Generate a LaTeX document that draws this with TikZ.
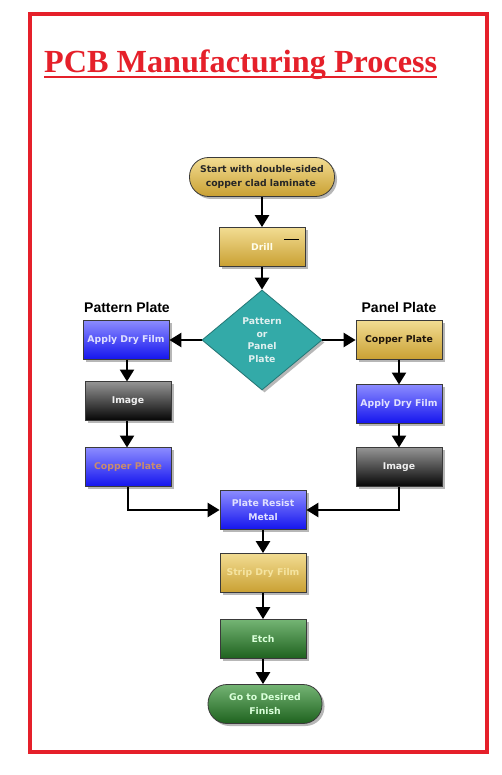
\documentclass[tikz,border=0pt]{standalone}
\usepackage{fontspec}
\setmainfont{Liberation Serif}
\newfontfamily\boxfont{DejaVu Sans}
\newfontfamily\lblfont{Liberation Sans}
\usetikzlibrary{arrows.meta,shapes.geometric,shadows}
\definecolor{framered}{HTML}{E5202A}
\definecolor{goldtop}{HTML}{F2DC92}
\definecolor{goldbot}{HTML}{C9A032}
\definecolor{bluetop}{HTML}{8C8CFF}
\definecolor{bluebot}{HTML}{1414EE}
\definecolor{blacktop}{HTML}{959595}
\definecolor{blackbot}{HTML}{050505}
\definecolor{greentop}{HTML}{74B474}
\definecolor{greenbot}{HTML}{1E621E}
\definecolor{teal1}{HTML}{33AAA8}
\definecolor{edgegray}{HTML}{3A3A3A}
\tikzset{
  box/.style={rectangle, draw=edgegray, line width=0.8pt, minimum width=86pt, minimum height=39pt,
    inner sep=1pt, align=center, font=\boxfont\bfseries\fontsize{9.3}{13.5}\selectfont,
    drop shadow={shadow xshift=2.5pt, shadow yshift=-2.5pt, fill=black!40, opacity=0.7}},
  stadium/.style={box, rounded corners=19pt},
  gold/.style={top color=goldtop, bottom color=goldbot},
  blue/.style={top color=bluetop, bottom color=bluebot, text=white!88!blue},
  blk/.style={top color=blacktop, bottom color=blackbot, text=white!94!black},
  green/.style={top color=greentop, bottom color=greenbot, text=white!85!green},
  flow/.style={line width=2.5pt, -{Triangle[length=12pt,width=14pt]}},
  lbl/.style={font=\lblfont\bfseries\fontsize{14}{16}\selectfont, inner sep=0pt}
}
\begin{document}
\begin{tikzpicture}[x=1pt,y=-1pt]
\useasboundingbox[fill=white] (0,0) rectangle (501,775);
\draw[framered, line width=4pt] (30,14) rectangle (487,752);
\node[anchor=base west, inner sep=0pt, text=framered, font=\bfseries\fontsize{32.2}{35}\selectfont] (title) at (44,73) {PCB Manufacturing Process};
\draw[framered, line width=2pt] (44,77) -- (437,77);

\node[stadium, gold, minimum width=145pt, text=black!85] (start) at (262,177) {Start with double-sided\\copper clad laminate\raisebox{1pt}{\tiny$\cdot$}};
\node[box, gold, text=white!92!yellow] (drill) at (262,247) {Drill};
\draw[line width=1pt] (284,240) -- (299,240);
\node[diamond, draw=teal1!70!black, line width=0.8pt, fill=teal1, minimum width=120pt, minimum height=100pt, inner sep=0pt,
  align=center, text=white!88!teal, font=\boxfont\bfseries\fontsize{9.3}{12.6}\selectfont,
  drop shadow={shadow xshift=2.5pt, shadow yshift=-2.5pt, fill=black!40, opacity=0.7}] (dec) at (262,340) {Pattern\\or\\Panel\\Plate};

\node[lbl] (ppl) at (127,307) {Pattern Plate};
\node[lbl] (pnl) at (399,307) {Panel Plate};

\node[box, blue] (lapply) at (126,340) {Apply Dry Film};
\node[box, blk] (limg) at (128,401) {Image};
\node[box, blue, text={rgb,255:red,200;green,140;blue,110}] (lcop) at (128,467) {Copper Plate};

\node[box, gold, text=black!85!brown] (rcop) at (399,340) {Copper Plate};
\node[box, blue] (rapply) at (399,404) {Apply Dry Film};
\node[box, blk] (rimg) at (399,467) {Image};

\node[box, blue] (prm) at (263,510) {Plate Resist\\Metal};
\node[box, gold, text={rgb,255:red,245;green,228;blue,160}] (strip) at (263,573) {Strip Dry Film};
\node[box, green] (etch) at (263,639) {Etch};
\node[stadium, green, minimum width=114pt] (fin) at (265,704) {Go to Desired\\Finish};

\draw[flow] (start) -- (drill);
\draw[flow] (drill) -- (dec);
\draw[flow] (dec.west) -- (lapply.east);
\draw[flow] (dec.east) -- (rcop.west);
\draw[flow] (127,359.5) -- (127,381.5);
\draw[flow] (127,420.5) -- (127,447.5);
\draw[flow] (399,359.5) -- (399,384.5);
\draw[flow] (399,423.5) -- (399,447.5);
\draw[flow] (lcop.south) |- (prm.west);
\draw[flow] (rimg.south) |- (prm.east);
\draw[flow] (prm) -- (strip);
\draw[flow] (strip) -- (etch);
\draw[flow] (etch.south) -- (etch.south |- fin.north);
\end{tikzpicture}
\end{document}
